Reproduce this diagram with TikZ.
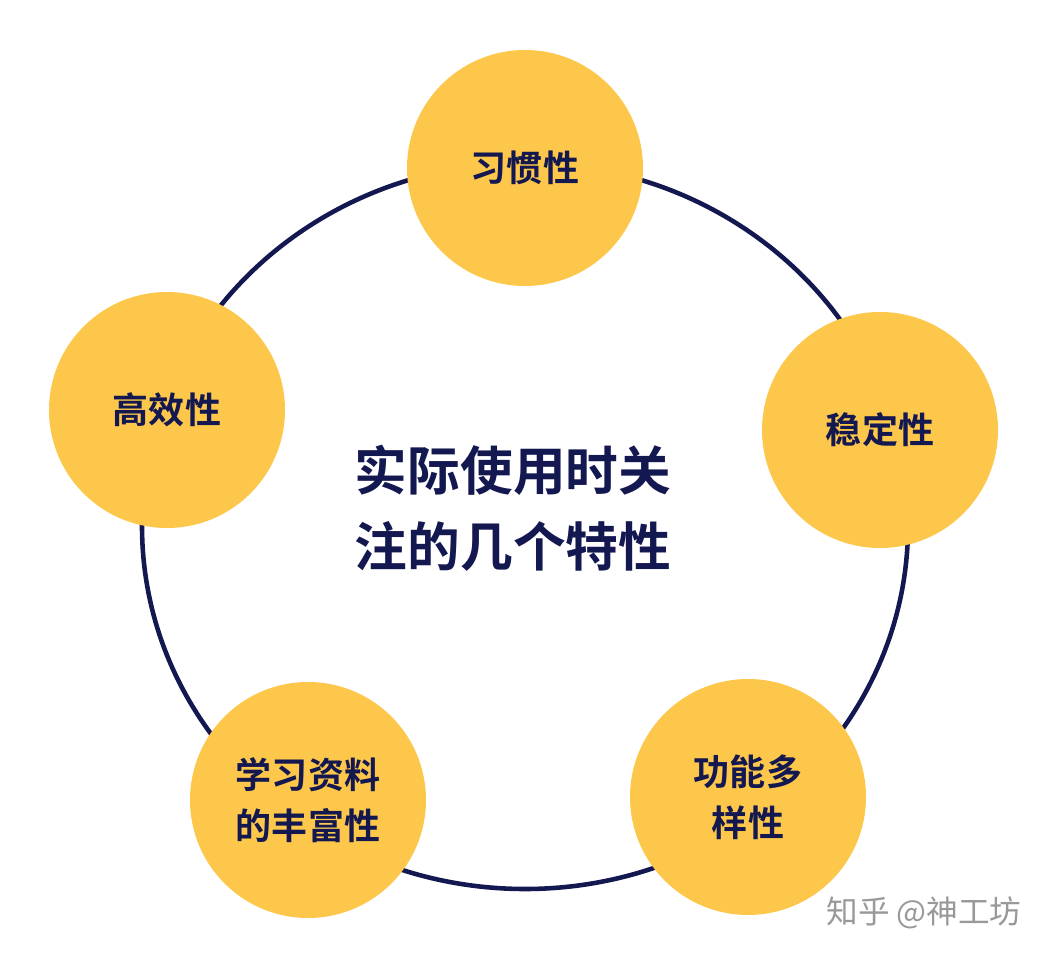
\documentclass[tikz,border=0pt]{standalone}
\usepackage{fontspec}
\newfontfamily\cjk{Noto Sans CJK SC Bold}
\newfontfamily\cjkr{Noto Sans CJK SC}
\definecolor{yel}{HTML}{FCC74A}
\definecolor{navy}{HTML}{141850}
\begin{document}
\begin{tikzpicture}[x=0.02cm,y=-0.02cm,
  bub/.style={circle,fill=yel,minimum size=236*0.02cm,inner sep=0pt,align=center,font=\cjk\fontsize{20.5}{29}\selectfont,text=navy}]
\useasboundingbox (0,0) rectangle (1048,959);
\draw[navy,line width=2.6pt] (525,526) ellipse [x radius=383,y radius=363];
\node[bub] (a) at (525,168) {习惯性};
\node[bub] (b) at (880,430) {稳定性};
\node[bub] (c) at (748,797) {功能多\\样性};
\node[bub] (d) at (308,800) {学习资料\\的丰富性};
\node[bub] (e) at (167,410) {高效性};
\node[align=center,text=navy,font=\cjk\fontsize{30}{43}\selectfont] (t) at (513,508) {实际使用时关\\注的几个特性};
\node[text=gray!80,font=\cjkr\fontsize{18}{22}\selectfont] (w) at (924,913) {知乎 @神工坊};
\end{tikzpicture}
\end{document}
